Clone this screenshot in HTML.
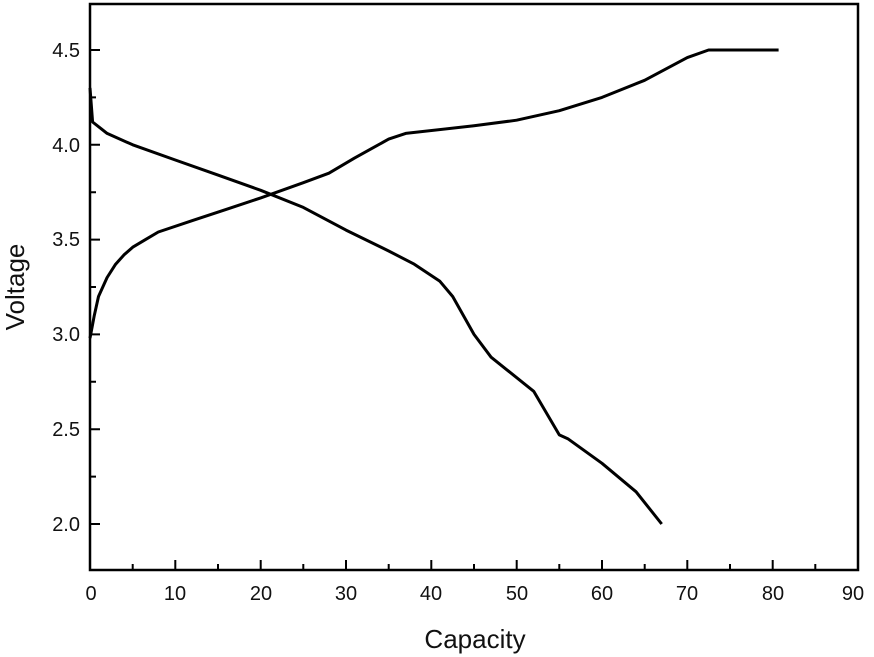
<!DOCTYPE html>
<html><head><style>body{margin:0;background:#fff}svg{display:block}text{font-family:"Liberation Sans",sans-serif;fill:#111}</style></head>
<body>
<svg width="874" height="657" viewBox="0 0 874 657">
<rect x="90" y="4" width="768" height="566" fill="none" stroke="#000" stroke-width="2.5"/>
<g stroke="#000" stroke-width="2">
<path d="M90,570v-10M175.3,570v-10M260.7,570v-10M346,570v-10M431.3,570v-10M516.7,570v-10M602,570v-10M687.3,570v-10M772.7,570v-10M132.7,570v-6M218,570v-6M303.3,570v-6M388.7,570v-6M474,570v-6M559.3,570v-6M644.7,570v-6M730,570v-6M815.3,570v-6"/>
<path d="M90,524h10M90,429.2h10M90,334.4h10M90,239.6h10M90,144.8h10M90,50h10M90,476.6h6M90,381.8h6M90,287h6M90,192.2h6M90,97.4h6"/>
</g>
<g font-size="20" text-anchor="middle">
<text x="91" y="600">0</text><text x="175" y="600">10</text><text x="261" y="600">20</text><text x="346" y="600">30</text><text x="431" y="600">40</text><text x="517" y="600">50</text><text x="602" y="600">60</text><text x="687" y="600">70</text><text x="773" y="600">80</text><text x="853" y="600">90</text>
</g>
<g font-size="20" text-anchor="end">
<text x="80" y="531">2.0</text><text x="80" y="436">2.5</text><text x="80" y="341">3.0</text><text x="80" y="246">3.5</text><text x="80" y="152">4.0</text><text x="80" y="57">4.5</text>
</g>
<text x="475" y="648" font-size="26" text-anchor="middle">Capacity</text>
<text x="24" y="287" font-size="26" text-anchor="middle" transform="rotate(-90 24 287)">Voltage</text>
<g fill="none" stroke="#000" stroke-width="3" stroke-linejoin="round">
<polyline id="c" points=""/>
<polyline id="d" points=""/>
</g>
</svg>
<script>
function P(a){return a.map(p=>(90+p[0]*8.533).toFixed(1)+','+(524-(p[1]-2)*189.6).toFixed(1)).join(' ')}
document.getElementById('c').setAttribute('points',P([[0,2.98],[0.5,3.1],[1,3.2],[2,3.3],[3,3.37],[4,3.42],[5,3.46],[6.5,3.5],[8,3.54],[12,3.6],[16,3.66],[20,3.72],[25,3.8],[28,3.85],[31,3.93],[33,3.98],[35,4.03],[37,4.06],[45,4.1],[50,4.13],[55,4.18],[60,4.25],[65,4.34],[70,4.46],[72.5,4.5],[80.7,4.5]]));
document.getElementById('d').setAttribute('points',P([[0,4.3],[0.3,4.12],[2,4.06],[5,4.0],[10,3.92],[15,3.84],[20,3.76],[25,3.67],[30,3.55],[35,3.44],[38,3.37],[41,3.28],[42.5,3.2],[43.5,3.12],[45,3.0],[47,2.88],[52,2.7],[55,2.47],[56,2.45],[60,2.32],[64,2.17],[67,2.0]]));
</script>
</body></html>
